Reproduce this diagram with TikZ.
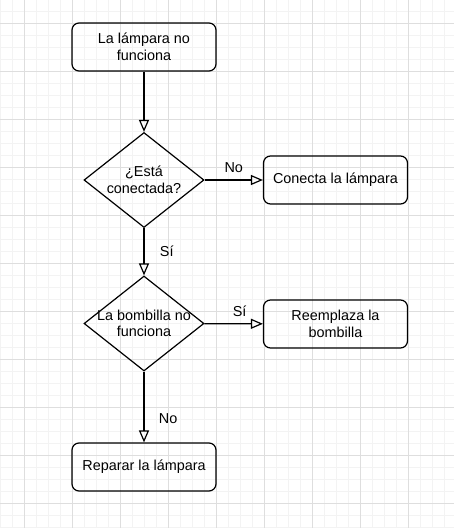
\documentclass[tikz,border=0pt]{standalone}
\usepackage{fontspec}
\setmainfont{Liberation Sans}
\usetikzlibrary{shapes.geometric,arrows.meta}
\definecolor{gridmajor}{RGB}{222,222,222}
\definecolor{gridminor}{RGB}{243,243,243}
\begin{document}
\begin{tikzpicture}[x=1pt,y=-1pt,
	every node/.style={font=\fontsize{14.4}{16.5}\selectfont},
	caja/.style={draw, rounded corners=7pt, line width=1.2pt, minimum width=144pt, minimum height=48pt, align=center},
	decision/.style={draw, diamond, line width=1.2pt, minimum width=120pt, minimum height=95pt, inner sep=-14pt, align=center},
	flecha/.style={line width=1.2pt, -{Triangle[open,length=12pt,width=10pt]}}]
		\useasboundingbox (0,0) rectangle (454,528);
		\fill[white] (0,0) rectangle (454,528);
		\foreach \x in {0,12,...,444} \draw[gridminor, line width=1pt] (\x,0) -- (\x,528);
		\foreach \y in {11,23,...,527} \draw[gridminor, line width=1pt] (0,\y) -- (454,\y);
		\foreach \x in {24,72,...,408} \draw[gridmajor, line width=1pt] (\x,0) -- (\x,528);
		\foreach \y in {23,71,...,503} \draw[gridmajor, line width=1pt] (0,\y) -- (454,\y);
		
		\node[caja] (inicio) at (144,47) {La lámpara no\\funciona};
		\node[decision] (conectada) at (144,180) {¿Está\\conectada?};
		\node[caja] (conectar) at (335.5,180) {Conecta la lámpara};
		\node[decision] (bombilla) at (144,323.5) {La bombilla no\\funciona};
		\node[caja] (reemplazar) at (335.5,324) {Reemplaza la\\bombilla};
		\node[caja] (reparar) at (144,467) {Reparar la lámpara};
		
		\draw[flecha] (inicio) -- (conectada);
		\draw[flecha] (conectada) -- (conectar) node[pos=.5, above=3pt] {No};
		\draw[flecha] (conectada) -- (bombilla) node[pos=.49, right=12pt] {Sí};
		\draw[flecha] (bombilla) -- (reemplazar) node[pos=.5, above=3pt, xshift=6pt] {Sí};
		\draw[flecha] (bombilla) -- (reparar) node[pos=.67, right=11pt] {No};
		\end{tikzpicture}
\end{document}
